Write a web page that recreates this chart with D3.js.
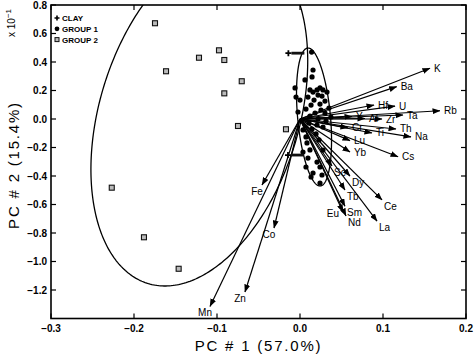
<!DOCTYPE html>
<html><head><meta charset="utf-8">
<script src="https://cdn.jsdelivr.net/npm/d3@7"></script>
<style>body{margin:0;background:#fff} svg{display:block}</style>
</head><body>
<svg id="chart" width="474" height="356"></svg>
<script>
// ---- data ----
const xTicks = [-0.3, -0.2, -0.1, 0.0, 0.1, 0.2];
const yTicks = [0.8, 0.6, 0.4, 0.2, 0.0, -0.2, -0.4, -0.6, -0.8, -1.0, -1.2];

const group1X = [0.014,0.0157,0.0145,0.0060,-0.0060,-0.0048,0.0120,0.0157,0.0205,0.0241,0.0277,0.0325,0.0096,0.0217,0.0265,0.0301,0.0169,0.0133,0.0241,0.0072,0.0253,0.0181,0.0301,0.0120,0.0349,0.0217,0.0313,0.0108,0.0205,0.0277,0.0145,-0.0024,0.0373,0.0036,0.0193,0.0072,0.0084,0.0120,0.0036,0.0096,0.0205,0.0072,0.0241,0.0157,0.0265,0.0133,0.0241,0.0000,0.0229,0.0277];
const group1Y = [0.470,0.344,0.295,0.274,0.218,0.154,0.204,0.189,0.204,0.218,0.204,0.189,0.154,0.168,0.161,0.126,0.133,0.098,0.105,0.070,0.063,0.042,0.042,0.021,0.077,0.000,-0.014,-0.028,-0.042,-0.056,-0.070,0.049,0.014,-0.077,-0.105,-0.126,-0.168,-0.217,-0.232,-0.274,-0.302,-0.337,-0.337,-0.379,-0.393,-0.407,-0.449,0.133,-0.147,-0.218];

const group2X = [-0.1747,-0.0976,-0.1217,-0.0912,-0.1614,-0.0702,-0.0912,-0.0747,-0.2268,-0.1880,-0.1462,-0.0169];
const group2Y = [0.672,0.482,0.430,0.414,0.335,0.265,0.180,-0.049,-0.482,-0.830,-1.051,-0.072];

const clayX = [-0.014, -0.0145];
const clayY = [0.462, -0.253];

const loadingNames = ["K","Ba","Hf","U","Rb","Ta","Zr","Al","Y","Th","Na","Ti","Cr","Lu","Yb","Cs","Sc","Dy","Ce","Tb","Sm","Nd","Eu","La","Fe","Co","Zn","Mn"];
const loadingX = [0.1566,0.1165,0.0892,0.1145,0.1687,0.1241,0.0988,0.0783,0.0627,0.1157,0.1337,0.0867,0.0578,0.0602,0.0602,0.1181,0.0386,0.0602,0.0988,0.0542,0.0542,0.0554,0.0518,0.0928,-0.0458,-0.0313,-0.0663,-0.1084];
const loadingY = [0.356,0.227,0.098,0.091,0.058,0.028,0.000,0.0035,0.0175,-0.070,-0.126,-0.098,-0.063,-0.152,-0.232,-0.265,-0.330,-0.400,-0.568,-0.498,-0.612,-0.680,-0.653,-0.716,-0.463,-0.765,-1.214,-1.315];

// ellipses: [centerX, centerY, sdX, sdY, correlation]
const bigEllipse = [-0.1213, 0.0267, 0.1306, 1.1986, 0.317];
const smallEllipse = [0.0169, 0.014, 0.0211, 0.484, -0.34];

const legendNames = ["CLAY", "GROUP 1", "GROUP 2"];

// ---- drawing ----
const FONT = "Liberation Sans, Arial, sans-serif";
const svg = d3.select("#chart");
const L = 51, R = 466, T = 5, B = 318.5;
const x = d3.scaleLinear().domain([-0.3, 0.2]).range([L, R]);
const y = d3.scaleLinear().domain([-1.4, 0.8]).range([B, T]);

const defs = svg.append("defs");
defs.append("clipPath").attr("id", "plotclip").append("rect")
  .attr("x", L).attr("y", T).attr("width", R - L).attr("height", B - T);
defs.append("marker").attr("id", "ah")
  .attr("viewBox", "0 0 8 6").attr("refX", 7.5).attr("refY", 3)
  .attr("markerWidth", 8).attr("markerHeight", 6)
  .attr("markerUnits", "userSpaceOnUse").attr("orient", "auto")
  .append("path").attr("d", "M0,0 L8,3 L0,6 Z").attr("fill", "#000");

const plot = svg.append("g").attr("clip-path", "url(#plotclip)");

function ellipsePts(e) {
  const [cx, cy, sx, sy, r] = e;
  const s = Math.sqrt(1 - r * r);
  return d3.range(0, 361).map(d => {
    const t = d * Math.PI / 180;
    return [cx + sx * Math.cos(t), cy + sy * (r * Math.cos(t) + s * Math.sin(t))];
  });
}
const line = d3.line().x(d => x(d[0])).y(d => y(d[1]));
[bigEllipse, smallEllipse].forEach(e => {
  plot.append("path").attr("d", line(ellipsePts(e)))
    .attr("fill", "none").attr("stroke", "#000").attr("stroke-width", 1.3);
});

// loading arrows
const loads = loadingNames.map((n, i) => ({ n, x: loadingX[i], y: loadingY[i] }));
plot.selectAll("line.ld").data(loads).join("line").attr("class", "ld")
  .attr("x1", x(0)).attr("y1", y(0))
  .attr("x2", d => x(d.x)).attr("y2", d => y(d.y))
  .attr("stroke", "#000").attr("stroke-width", 1.2)
  .attr("marker-end", "url(#ah)");

// group 1 points
plot.selectAll("circle.g1").data(group1X.map((v, i) => [v, group1Y[i]])).join("circle")
  .attr("class", "g1").attr("cx", d => x(d[0])).attr("cy", d => y(d[1]))
  .attr("r", 2.6).attr("fill", "#000");

// group 2 squares
plot.selectAll("rect.g2").data(group2X.map((v, i) => [v, group2Y[i]])).join("rect")
  .attr("class", "g2").attr("x", d => x(d[0]) - 2.5).attr("y", d => y(d[1]) - 2.5)
  .attr("width", 5).attr("height", 5)
  .attr("fill", "#bbb").attr("stroke", "#111").attr("stroke-width", 1.1);

// clay crosses (with smeared tags)
const crossPath = "M-3,0 H3 M0,-3 V3";
clayX.forEach((v, i) => {
  const g = plot.append("g").attr("transform", `translate(${x(v)},${y(clayY[i])})`);
  g.append("path").attr("d", crossPath).attr("stroke", "#000").attr("stroke-width", 1.8);
  g.append("rect").attr("x", 3).attr("y", -1.4).attr("width", 13).attr("height", 2.8).attr("fill", "#111");
});

// loading labels (simple collision avoidance on tight boxes)
const placed = [];
function tight(b) { return { x: b.x, y: b.y + 2.5, w: b.width, h: b.height - 4.5 }; }
function overlaps(b) {
  return placed.some(p => b.x < p.x + p.w && p.x < b.x + b.w && b.y < p.y + p.h && p.y < b.y + b.h);
}
loads.forEach(d => {
  const px = x(d.x), py = y(d.y);
  const dx = px - x(0), dy = py - y(0);
  const ux = dx / Math.hypot(dx, dy);
  let tx, ty, anchor;
  if (ux > 0.8) { tx = px + 4; ty = py + 3.5; anchor = "start"; }
  else if (ux > 0) { tx = px + 2; ty = py + 10; anchor = "start"; }
  else { tx = px - 5; ty = py + 10; anchor = "middle"; }
  const t = svg.append("text").attr("x", tx).attr("y", ty).attr("text-anchor", anchor)
    .attr("font-family", FONT).attr("font-size", 10).attr("fill", "#000").text(d.n);
  let b = tight(t.node().getBBox());
  if (overlaps(b)) {
    t.attr("x", px - 4).attr("y", py + 5).attr("text-anchor", "end");
    b = tight(t.node().getBBox());
  }
  placed.push(b);
});

// frame
svg.append("rect").attr("x", L).attr("y", T).attr("width", R - L).attr("height", B - T)
  .attr("fill", "none").attr("stroke", "#000").attr("stroke-width", 1.6);

// ticks (inward)
const tk = 5;
xTicks.forEach(v => {
  svg.append("line").attr("x1", x(v)).attr("x2", x(v)).attr("y1", B).attr("y2", B - tk).attr("stroke", "#000").attr("stroke-width", 1.2);
  svg.append("line").attr("x1", x(v)).attr("x2", x(v)).attr("y1", T).attr("y2", T + tk).attr("stroke", "#000").attr("stroke-width", 1.2);
  svg.append("text").attr("x", x(v)).attr("y", B + 13).attr("text-anchor", "middle")
    .attr("font-family", FONT).attr("font-size", 10).attr("font-weight", "bold")
    .text(d3.format(".1f")(v));
});
yTicks.forEach(v => {
  svg.append("line").attr("x1", L).attr("x2", L + tk).attr("y1", y(v)).attr("y2", y(v)).attr("stroke", "#000").attr("stroke-width", 1.2);
  svg.append("line").attr("x1", R).attr("x2", R - tk).attr("y1", y(v)).attr("y2", y(v)).attr("stroke", "#000").attr("stroke-width", 1.2);
  svg.append("text").attr("x", L - 4).attr("y", y(v) + 3.5).attr("text-anchor", "end")
    .attr("font-family", FONT).attr("font-size", 10).attr("font-weight", "bold")
    .text(d3.format(".1f")(v));
});

// axis titles
svg.append("text").attr("x", (L + R) / 2).attr("y", 351).attr("text-anchor", "middle")
  .attr("font-family", FONT).attr("font-size", 15)
  .attr("letter-spacing", "1.8px").text("PC # 1 (57.0%)");
svg.append("text").attr("transform", "translate(19,165) rotate(-90)").attr("text-anchor", "middle")
  .attr("font-family", FONT).attr("font-size", 15)
  .attr("letter-spacing", "1.8px").text("PC # 2 (15.4%)");
const exp = svg.append("text").attr("transform", "translate(15,37) rotate(-90)")
  .attr("font-family", FONT).attr("font-size", 10);
exp.append("tspan").text("x 10");
exp.append("tspan").attr("dy", -4).attr("font-size", 8).text("−1");

// legend
const lg = svg.append("g").attr("transform", "translate(57,18)");
legendNames.forEach((n, i) => {
  const g = lg.append("g").attr("transform", `translate(0,${i * 10.8})`);
  if (i === 0) g.append("path").attr("d", "M-2.5,0 H2.5 M0,-2.5 V2.5").attr("stroke", "#000").attr("stroke-width", 1.6);
  if (i === 1) g.append("circle").attr("r", 2.4).attr("fill", "#000");
  if (i === 2) g.append("rect").attr("x", -2).attr("y", -2).attr("width", 4).attr("height", 4).attr("fill", "#bbb").attr("stroke", "#111").attr("stroke-width", 1);
  g.append("text").attr("x", 5).attr("y", 3).attr("font-family", FONT)
    .attr("font-size", 8).attr("font-weight", "bold").text(n);
});
</script>
</body></html>
